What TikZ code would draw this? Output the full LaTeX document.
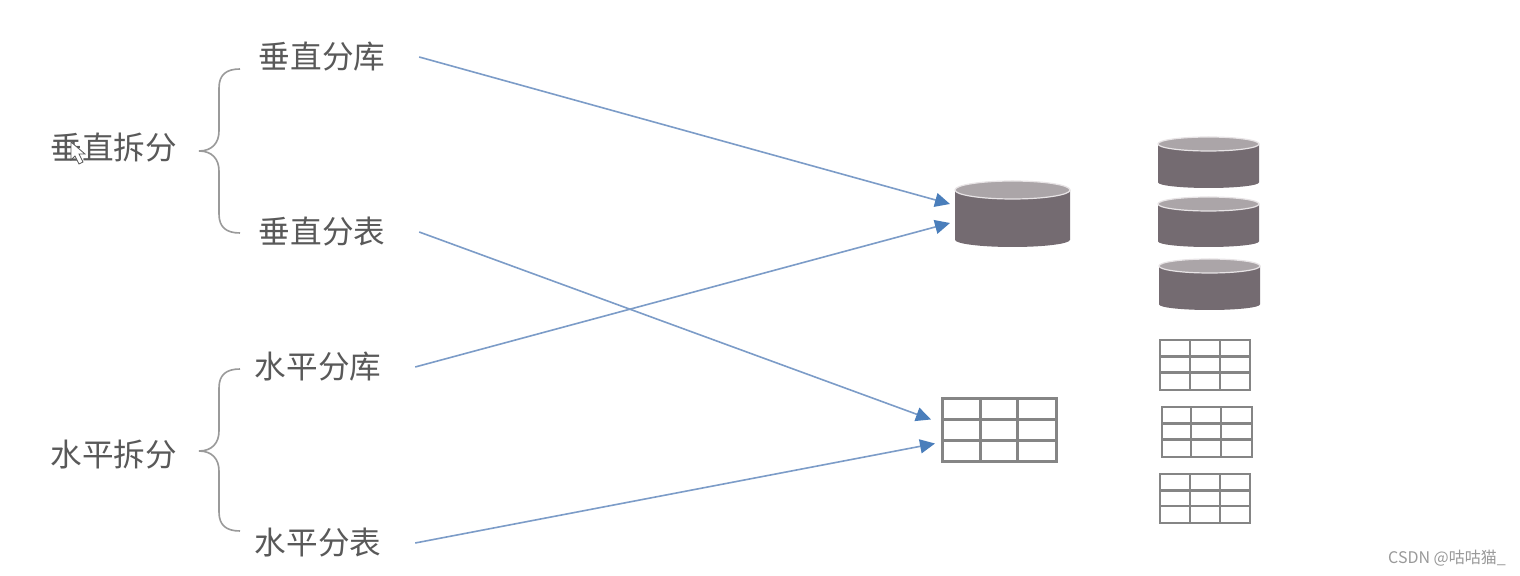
\documentclass[tikz,border=0pt]{standalone}
\usepackage{fontspec}
\usepackage{xcolor}
\usepackage{tikz}
\usetikzlibrary{arrows.meta}
\setmainfont{Noto Sans CJK SC}
\definecolor{textgray}{HTML}{595959}
\definecolor{bracegray}{HTML}{9A9A9A}
\definecolor{barrelbody}{HTML}{746B71}
\definecolor{barreltop}{HTML}{ABA5A8}
\definecolor{barrelrim}{HTML}{E8E4E6}
\definecolor{gridgray}{HTML}{858585}
\definecolor{flowblue}{HTML}{7C9CC8}
\definecolor{tipblue}{HTML}{4A7EBB}
\tikzset{
  label/.style={text=textgray,font=\fontsize{15.8}{18}\selectfont,inner xsep=16.8pt,inner ysep=0pt},
  brace/.style={draw=bracegray,line width=0.8pt},
  flow/.style={draw=flowblue,line width=0.8pt,-{Triangle[length=7.5pt,width=7pt,color=tipblue]}},
  slot/.style={inner sep=0pt,outer sep=0pt,minimum width=#1}
}
% barrel: name, left, top, right, bottom, height of the lid
\newcommand{\barrel}[6]{
  \node[slot=0pt] (#1) at ({(#2+#4)/2},{(#3+#5)/2}) {};
  \fill[barrelbody] (#2,#3+#6/2) -- (#2,#5-#6*0.4) arc[start angle=180,end angle=0,x radius={(#4-#2)/2},y radius={#6*0.4}] -- (#4,#3+#6/2) -- cycle;
  \filldraw[fill=barreltop,draw=barrelrim,line width=0.6pt] ({(#2+#4)/2},#3+#6/2) ellipse ({(#4-#2)/2} and {#6/2});
}
% gridtable: name, left, top, right, bottom, first and second column, first and second row, line width
\newcommand{\gridtable}[9]{
  \node[slot=0pt] (#1) at ({(#2+#4)/2},{(#3+#5)/2}) {};
  \draw[gridgray,line width=#9] (#2,#3) rectangle (#4,#5)
    (#6,#3) -- (#6,#5) (#7,#3) -- (#7,#5)
    (#2,{#3+(#5-#3)*#8}) -- (#4,{#3+(#5-#3)*#8})
    (#2,{#3+(#5-#3)*(#8+0.325)}) -- (#4,{#3+(#5-#3)*(#8+0.325)});
}
\begin{document}
\begin{tikzpicture}[x=0.5pt,y=-0.5pt]
\useasboundingbox (0,0) rectangle (1520,576);
\fill[white] (0,0) rectangle (1520,576);

% left column
\node[label] (vsplit) at (114,148) {垂直拆分};
\node[label] (hsplit) at (114,455) {水平拆分};
\node[label] (vdb) at (322,57) {垂直分库};
\node[label] (vtb) at (322,232) {垂直分表};
\node[label] (hdb) at (318,367) {水平分库};
\node[label] (htb) at (318,543) {水平分表};

% braces
\draw[brace] (240,69) .. controls (226,69) and (219,75) .. (219,88) -- (219,131) .. controls (219,143) and (212,151) .. (199,151) .. controls (212,151) and (219,159) .. (219,171) -- (219,214) .. controls (219,227) and (226,233) .. (240,233);
\draw[brace] (240,369) .. controls (226,369) and (219,375) .. (219,388) -- (219,431) .. controls (219,443) and (212,451) .. (199,451) .. controls (212,451) and (219,459) .. (219,471) -- (219,512) .. controls (219,525) and (226,531) .. (240,531);

% cursor
\filldraw[fill=white,draw=textgray,line width=0.4pt] (71,142) -- (71,160) -- (75,156) -- (79,164) -- (83,162) -- (79,154) -- (85,154) -- cycle;

% barrels
\barrel{db}{955}{181}{1070}{247}{18}
\barrel{dba}{1158}{137}{1259}{188}{14}
\barrel{dbb}{1158}{197}{1259}{247}{14}
\barrel{dbc}{1159}{259}{1260}{310}{14}

% tables
\gridtable{tb}{942}{399}{1056}{462}{980}{1017}{0.33}{1.5pt}
\gridtable{tba}{1160}{340}{1250}{390}{1190}{1220}{0.33}{1.4pt}
\gridtable{tbb}{1162}{407}{1252}{457}{1191}{1221}{0.33}{1.4pt}
\gridtable{tbc}{1160}{474}{1250}{523}{1190}{1220}{0.33}{1.4pt}

% connectors
\draw[flow] (vdb.east) -- ([shift={(-62.5,-10)}]db.center);
\draw[flow] (hdb.east) -- ([shift={(-62.5,9)}]db.center);
\draw[flow] (vtb.east) -- ([shift={(-68,-11)}]tb.center);
\draw[flow] (htb.east) -- ([shift={(-64,13)}]tb.center);

\node[inner sep=0pt,text=gray!80,font=\fontsize{8}{10}\selectfont] (mark) at (1447,558) {CSDN @咕咕猫\_};
\end{tikzpicture}
\end{document}
